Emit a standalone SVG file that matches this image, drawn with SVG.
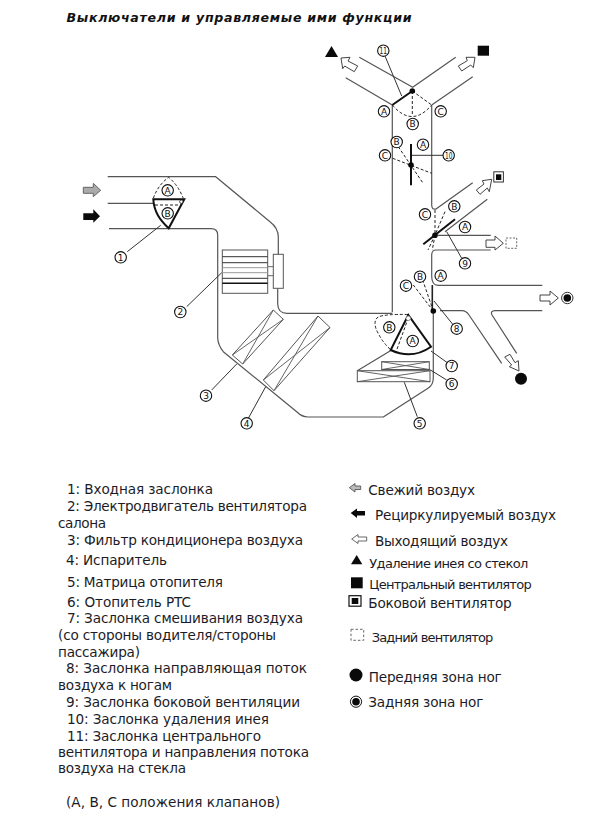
<svg xmlns="http://www.w3.org/2000/svg" width="591" height="814" viewBox="0 0 591 814">
<style>
text{font-family:"DejaVu Sans","Liberation Sans",sans-serif;fill:#1c1c28}
.t{font-size:13.6px}
.l{font-size:13px}
.h{font-size:12.6px;font-weight:bold;font-style:italic;fill:#111}
.c{font-size:9px;text-anchor:middle;fill:#111}
.ring{fill:#fff;stroke:#111;stroke-width:1.1}
.w{fill:none;stroke:#555;stroke-width:1.2;stroke-linejoin:round}
.ld{fill:none;stroke:#333;stroke-width:1}
.th{fill:none;stroke:#111;stroke-width:2}
.d{fill:none;stroke:#222;stroke-width:1;stroke-dasharray:3 2}
.o{fill:#fff;stroke:#444;stroke-width:1}
.k{fill:#0a0a0a;stroke:none}
.b{fill:#fff;stroke:#555;stroke-width:1}
.x{fill:none;stroke:#555;stroke-width:.9}
</style>

<text class="h" x="66.5" y="21.7" textLength="345">Выключатели и управляемые ими функции</text>

<g id="connectors">
<g id="duct-walls">
<path class="w" d="M107.7 176.7H215.7L270 221.7Q278.3 228 278.3 237V254.3M277.7 288.3V304Q278 313.3 287 313.3H392.3"/>
<path class="w" d="M107.7 203.3H153.3"/>
<path class="w" d="M109 228.7H211Q217.7 228.7 217.7 235V338Q218 345 223.3 351.7L297 412Q302 417 308 417H383.3L428 388.3Q433.3 385 433.3 378V311"/>
<path class="w" d="M392.3 312.3V105L345.7 77.7M359.3 57.3L412.7 87.3L455.7 57.3M431.7 105L472.7 76.7M431.7 105V205Q431.7 210 436 209L472.7 182.7M445 231.7L487.3 199.3"/>
<path class="w" d="M438 235.3H490.7M490.7 250H436Q431.7 250 431.7 255V276Q431.7 285.3 438 285.3H542.3M440 310.7H462Q466 310.7 469 315L501.7 363.3M542.3 310.7H495Q490 311 492 315L516.7 353.3"/>
</g>
<g id="leaders">
<path class="ld" d="M127.3 251.7L160.7 225.3M186.7 306.7L221.7 272.7M211.7 390L236.7 364M248.3 418.3L265.7 386.7M404.3 382.3L417.3 416.7M429.3 369.3L446.7 380M431 351L447.3 362.7M434 301L453.3 325M446.7 231.7L461.7 258.3M411 155.3H443.3M385 56L401.7 96"/>
</g>
</g>

<g id="damper-1">
<path class="d" d="M153.3 198.3Q158 185 168.7 177.3Q178 185 183.3 198.3M155 205H181.7"/>
<path class="th" d="M153.3 199.3H184.3L168.7 228.3C160 220 154 212 153.3 199.3Z"/>
<circle cx="181.3" cy="201.7" r="1.7" fill="#fff" stroke="#222" stroke-width=".8"/>
<circle class="ring" cx="167.7" cy="190.3" r="5.7"/><text class="c" x="167.7" y="193.5">A</text>
<circle class="ring" cx="167.7" cy="213.3" r="5.7"/><text class="c" x="167.7" y="216.5">B</text>
<circle class="ring" cx="120.7" cy="257.3" r="5.7"/><text class="c" x="120.7" y="260.5">1</text>
</g>

<g id="blower-2">
<rect class="b" x="222.3" y="250" width="45.4" height="43.3"/>
<path fill="none" stroke="#333" d="M222.3 256.7H267.7M222.3 262.7H267.7M222.3 278.3H267.7"/>
<path fill="none" stroke="#999" d="M222.3 267.7H267.7M222.3 272.7H267.7"/>
<path fill="none" stroke="#111" stroke-width="1.4" d="M222.3 283.3H267.7"/>
<path fill="none" stroke="#666" d="M267.7 266.7H273.3M267.7 275.7H273.3"/>
<rect class="b" x="273.3" y="254.3" width="10" height="34"/>
<circle class="ring" cx="180.3" cy="312" r="5.7"/><text class="c" x="180.3" y="315.2">2</text>
</g>

<g id="filter-3">
<path class="b" d="M273.3 310L283.3 319.3L242.7 364L232.3 355Z"/>
<path class="x" d="M273.3 310L242.7 364M283.3 319.3L232.3 355"/>
<circle class="ring" cx="206" cy="395.7" r="5.7"/><text class="c" x="206" y="398.9">3</text>
</g>

<g id="evaporator-4">
<path class="b" d="M318 316L330 327.5L274 390.7L263.3 380Z"/>
<path class="x" d="M318 316L274 390.7M330 327.5L263.3 380"/>
<circle class="ring" cx="246.7" cy="423.3" r="5.7"/><text class="c" x="246.7" y="426.5">4</text>
</g>

<g id="heater-5">
<path class="w" d="M391.7 350L357.3 370.7"/>
<rect class="b" x="357.3" y="370.7" width="72.7" height="11"/>
<path class="x" d="M357.3 370.7L430 381.7M357.3 381.7L430 370.7"/>
<circle class="ring" cx="419.7" cy="423.3" r="5.7"/><text class="c" x="419.7" y="426.5">5</text>
</g>

<g id="ptc-6">
<rect class="b" x="381.7" y="361.7" width="47.6" height="7.8"/>
<path class="x" d="M381.7 361.7L429.3 369.5M381.7 369.5L429.3 361.7"/>
<circle class="ring" cx="451.7" cy="384" r="5.7"/><text class="c" x="451.7" y="387.2">6</text>
</g>

<g id="damper-7">
<path class="d" d="M408 314.5Q385 314 378 317Q372 322 378 333Q383 343 391 350M408.3 318L396.7 350"/>
<path class="th" d="M408.3 315L390.7 350Q412 360 431 346.7Z"/>
<circle cx="408.3" cy="318.3" r="2.3" fill="#fff" stroke="#777" stroke-width=".8"/>
<circle class="ring" cx="412.7" cy="341" r="5.7"/><text class="c" x="412.7" y="344.2">A</text>
<circle class="ring" cx="389.3" cy="327.3" r="5.7"/><text class="c" x="389.3" y="330.5">B</text>
<circle class="ring" cx="451.7" cy="366" r="5.7"/><text class="c" x="451.7" y="369.2">7</text>
</g>

<g id="damper-8">
<path class="d" d="M433.3 311L422.7 280M433.3 311L413.3 285"/>
<path fill="none" stroke="#222" stroke-width="1.6" d="M432.3 285V310"/>
<circle class="k" cx="433.3" cy="311" r="2.8"/>
<circle class="ring" cx="440.7" cy="275.7" r="5.7"/><text class="c" x="440.7" y="278.9">A</text>
<circle class="ring" cx="420" cy="276.7" r="5.7"/><text class="c" x="420" y="279.9">B</text>
<circle class="ring" cx="406" cy="285.7" r="5.7"/><text class="c" x="406" y="288.9">C</text>
<circle class="ring" cx="456.7" cy="328.7" r="5.7"/><text class="c" x="456.7" y="331.9">8</text>
</g>

<g id="damper-9">
<path class="d" d="M435 210V235M445 211.7L435 235M435 235L432.3 250M435 235L428 250"/>
<path class="th" d="M423.3 244.3L455 219.3"/>
<circle class="k" cx="435" cy="235.3" r="2.8"/>
<circle class="ring" cx="425" cy="214.3" r="5.7"/><text class="c" x="425" y="217.5">C</text>
<circle class="ring" cx="454.3" cy="206.3" r="5.7"/><text class="c" x="454.3" y="209.5">B</text>
<circle class="ring" cx="465" cy="227" r="5.7"/><text class="c" x="465" y="230.2">A</text>
<circle class="ring" cx="465" cy="263.3" r="5.7"/><text class="c" x="465" y="266.5">9</text>
</g>

<g id="damper-10">
<path class="d" d="M392.7 158.3L431.7 173.3M398.3 146.7L422.7 182.7"/>
<path class="th" d="M411 144V185.3"/>
<circle class="k" cx="411" cy="165" r="2.8"/>
<circle class="ring" cx="396.7" cy="142" r="5.7"/><text class="c" x="396.7" y="145.2">B</text>
<circle class="ring" cx="423" cy="144.7" r="5.7"/><text class="c" x="423" y="147.9">A</text>
<circle class="ring" cx="385" cy="155.3" r="5.7"/><text class="c" x="385" y="158.5">C</text>
<circle class="ring" cx="448.7" cy="155.3" r="5.7"/><text class="c" x="448.7" y="158.5" textLength="7.5" lengthAdjust="spacingAndGlyphs">10</text>
</g>

<g id="damper-11">
<path class="d" d="M412.3 91L431.7 105M412.3 91V115M392.3 105Q412 128 431.7 105"/>
<path class="th" d="M392.3 105L412.3 91"/>
<circle class="k" cx="412.3" cy="91" r="2.8"/>
<circle class="ring" cx="384" cy="111.3" r="5.7"/><text class="c" x="384" y="114.5">A</text>
<circle class="ring" cx="440.7" cy="111.3" r="5.7"/><text class="c" x="440.7" y="114.5">C</text>
<circle class="ring" cx="412.7" cy="124" r="5.7"/><text class="c" x="412.7" y="127.2">B</text>
<circle class="ring" cx="383.3" cy="50.7" r="5.7"/><text class="c" x="383.3" y="53.9" textLength="7.5" lengthAdjust="spacingAndGlyphs">11</text>
</g>

<g id="inlet-fresh">
<path d="M83.3 187.3V193.3H93.3V196.7L100.7 190.3L93.3 183.3V187.3Z" fill="#aaa" stroke="#666"/>
</g>
<g id="inlet-recirc">
<path class="k" d="M83.3 213.3V220H93.3V222.7L100 216.3L93.3 209.3V213.3Z"/>
</g>
<g id="outlet-defrost">
<path class="o" d="M341 58L350 57.3L348 61L357.7 66L354.3 71.7L344.7 66L342.7 68.7Z"/>
<path class="k" d="M325 57H338L331.5 46Z"/>
</g>
<g id="outlet-center">
<path class="o" d="M475 57.3L466 57.3L467.3 60.7L458.3 66L461.7 71L470.7 65L473.3 67.7Z"/>
<rect class="k" x="477.7" y="45.7" width="11.3" height="10"/>
</g>
<g id="outlet-side">
<path class="o" d="M491.7 179.3L482.3 180.7L484 184L476.3 190L480 194.3L487.3 188L489.3 191.7Z"/>
<rect x="493.8" y="171.8" width="9.6" height="10.2" fill="#fff" stroke="#333"/>
<rect class="k" x="496" y="174.3" width="5.3" height="5.7"/>
</g>
<g id="outlet-rear">
<path class="o" d="M486 240V247.3H495V250L503.3 243.3L495 236V240Z"/>
<rect x="506" y="238" width="10.7" height="10.3" fill="none" stroke="#666" stroke-dasharray="2 1.5"/>
</g>
<g id="outlet-rear-foot">
<path class="o" d="M540 295V301H550V305L558.3 298L550 291V295Z"/>
<circle cx="567.3" cy="298" r="5.7" fill="#fff" stroke="#333"/>
<circle class="k" cx="567.3" cy="298" r="3.8"/>
</g>
<g id="outlet-front-foot">
<path class="o" d="M504.7 357L510 354.3L515 362.7L518.3 360.7L519 371L509.3 366.7L511.7 365Z"/>
<circle class="k" cx="521" cy="378.7" r="6"/>
</g>

<g id="parts-list">
<text class="t" x="67" y="494" textLength="146">1: Входная заслонка</text>
<text class="t" x="67" y="511" textLength="240">2: Электродвигатель вентилятора</text>
<text class="t" x="58" y="527.7" textLength="48">салона</text>
<text class="t" x="67" y="545" textLength="236">3: Фильтр кондиционера воздуха</text>
<text class="t" x="66" y="565" textLength="101">4: Испаритель</text>
<text class="t" x="67" y="586.7" textLength="156">5: Матрица отопителя</text>
<text class="t" x="67" y="606.7" textLength="124">6: Отопитель PTC</text>
<text class="t" x="67" y="623" textLength="236">7: Заслонка смешивания воздуха</text>
<text class="t" x="58" y="640" textLength="218">(со стороны водителя/стороны</text>
<text class="t" x="58" y="656.7" textLength="82">пассажира)</text>
<text class="t" x="66" y="673" textLength="241">8: Заслонка направляющая поток</text>
<text class="t" x="58" y="690" textLength="114">воздуха к ногам</text>
<text class="t" x="66" y="706.7" textLength="234">9: Заслонка боковой вентиляции</text>
<text class="t" x="67" y="724" textLength="202">10: Заслонка удаления инея</text>
<text class="t" x="67" y="740.7" textLength="194">11: Заслонка центрального</text>
<text class="t" x="58" y="756.7" textLength="251">вентилятора и направления потока</text>
<text class="t" x="58" y="773" textLength="128">воздуха на стекла</text>
<text class="t" x="66" y="806.7" textLength="214">(A, B, C положения клапанов)</text>
</g>

<g id="legend">
<path d="M349.3 487.7L355 483.5V486H360.7V489.5H355V492Z" fill="#bbb" stroke="#444" stroke-width=".8"/>
<text class="t" x="368.3" y="495" textLength="106.7">Свежий воздух</text>
<path class="k" d="M350.7 513L357 508.5V511H365V515.5H357V518Z"/>
<text class="t" x="375" y="520" textLength="181">Рециркулируемый воздух</text>
<path d="M351.7 539L358 534.5V537H366.7V541H358V543.5Z" fill="#fff" stroke="#444" stroke-width=".8"/>
<text class="t" x="375" y="545.7" textLength="133">Выходящий воздух</text>
<path class="k" d="M351 564.3H362.3L356.7 555Z"/>
<text class="l" x="369.3" y="567.7" textLength="159">Удаление инея со стекол</text>
<rect class="k" x="351" y="577.3" width="11.7" height="11"/>
<text class="l" x="369.3" y="589.3" textLength="162.4">Центральный вентилятор</text>
<rect x="349" y="595.7" width="12" height="10.5" fill="#fff" stroke="#111" stroke-width="1.2"/>
<rect class="k" x="351.7" y="598" width="6.6" height="6"/>
<text class="t" x="368.3" y="607.7" textLength="143.4">Боковой вентилятор</text>
<rect x="351" y="629.3" width="12.7" height="11" fill="none" stroke="#666" stroke-dasharray="2.5 2"/>
<text class="l" x="371.7" y="642.3" textLength="121.6">Задний вентилятор</text>
<circle class="k" cx="356" cy="675" r="6.5"/>
<text class="t" x="368.7" y="682.3" textLength="133">Передняя зона ног</text>
<circle cx="356" cy="701.7" r="5.6" fill="#fff" stroke="#111" stroke-width="1"/>
<circle class="k" cx="356" cy="701.7" r="3.8"/>
<text class="t" x="368.3" y="707.3" textLength="115">Задняя зона ног</text>
</g>
</svg>
